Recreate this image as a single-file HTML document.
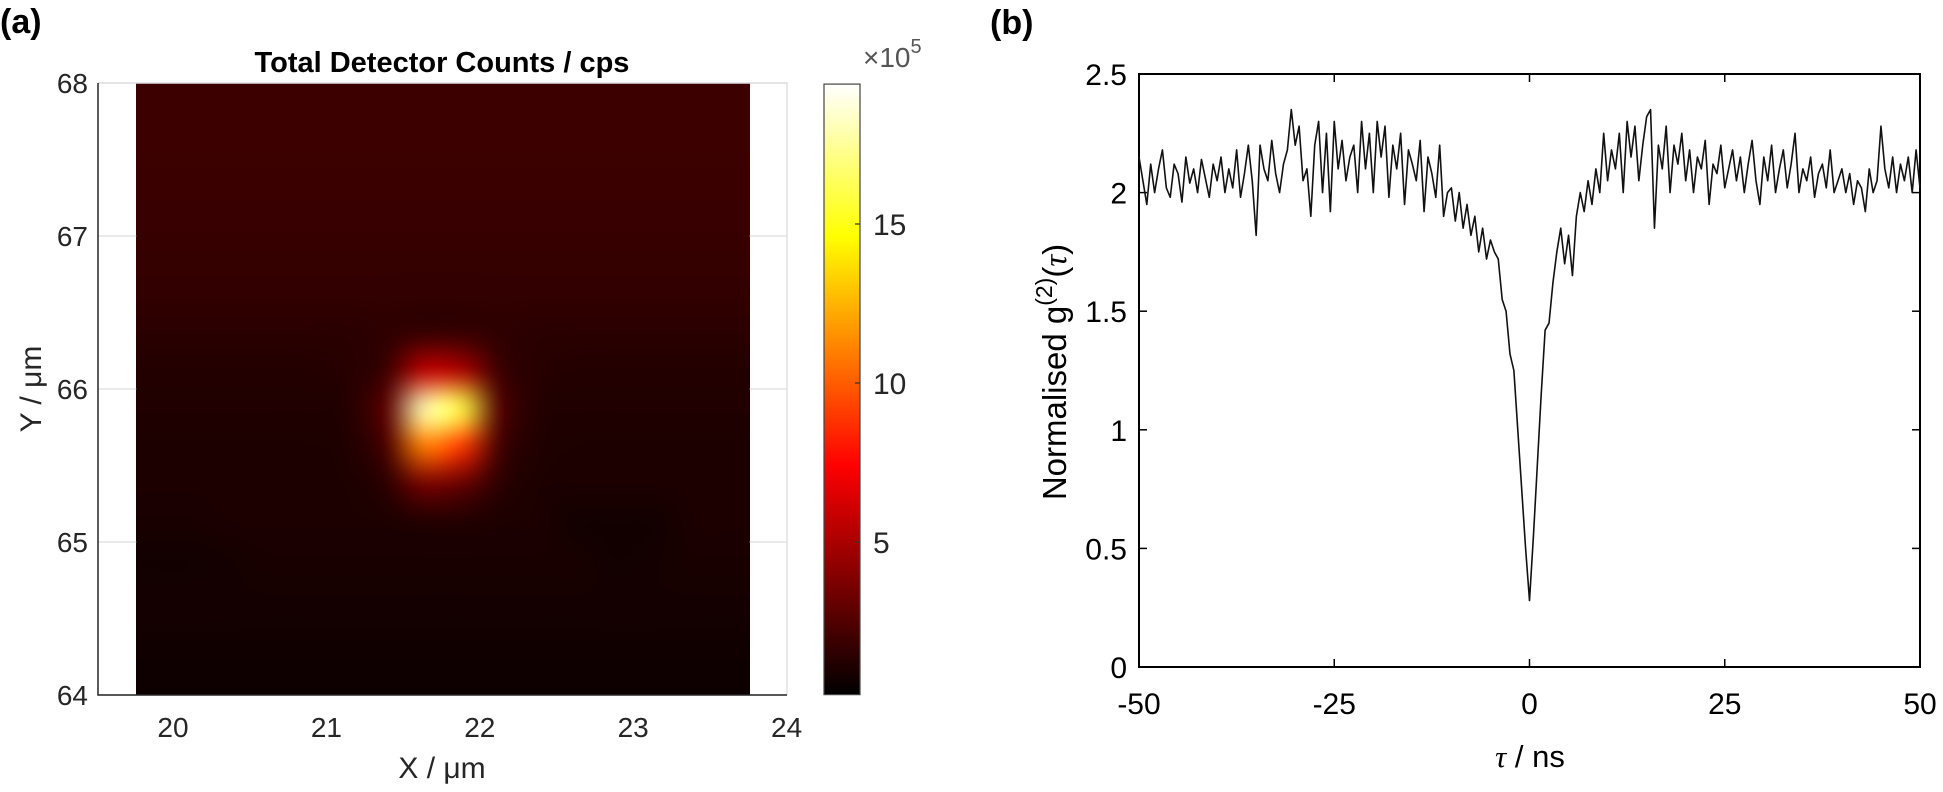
<!DOCTYPE html>
<html><head><meta charset="utf-8"><style>
body{margin:0;background:#fff;width:1943px;height:792px;overflow:hidden;font-family:"Liberation Sans",sans-serif}
svg{position:absolute;left:0;top:0}
canvas{position:absolute}
</style></head><body>
<canvas id="hm" style="left:137px;top:83px;width:611px;height:612px" width="611" height="612"></canvas>
<svg id="s" width="1943" height="792"></svg>
<script>
// ---- heatmap data (x1e5 cps), rows top (y=68) to bottom (y=64), 16x16 ----
const hmXRange=[19.76,23.76];
const hmYRange=[64,68];
const hmRows=[
[1.9,1.9,1.9,1.9,1.9,1.9,1.9,1.9,1.9,1.9,1.9,1.9,1.9,1.9,1.9,1.9],
[1.9,1.9,1.9,1.9,1.9,1.9,1.9,1.9,1.9,1.9,1.9,1.9,1.9,1.9,1.9,1.9],
[1.85,1.85,1.85,1.85,1.85,1.85,1.85,1.85,1.85,1.85,1.85,1.85,1.85,1.85,1.85,1.85],
[1.8,1.8,1.8,1.8,1.8,1.8,1.8,1.8,1.8,1.8,1.8,1.8,1.8,1.8,1.8,1.8],
[1.7,1.7,1.7,1.7,1.7,1.7,1.7,1.7,1.7,1.7,1.7,1.7,1.7,1.7,1.7,1.7],
[1.6,1.6,1.6,1.6,1.6,1.6,1.6,1.6,1.6,1.6,1.6,1.6,1.6,1.6,1.6,1.6],
[1.4,1.4,1.4,1.4,1.4,1.4,1.5,1.6,1.6,1.5,1.4,1.4,1.4,1.4,1.4,1.4],
[1.2,1.2,1.2,1.2,1.2,1.3,1.8,5.5,5,1.8,1.3,1.2,1.2,1.2,1.2,1.2],
[1.1,1.1,1.1,1.1,1.1,1.2,2.8,18,16,2.5,1.2,1.1,1.1,1.1,1.1,1.1],
[1.0,1.0,1.0,1.0,1.0,1.1,2.2,11,9,2,1.1,1.0,1.0,1.0,1.0,1.0],
[1.0,1.0,1.0,1.0,1.0,1.0,1.4,3.5,3,1.4,1.0,1.0,1.0,1.0,1.0,1.0],
[0.9,0.9,1.0,1.0,1.0,1.0,1.0,1.1,1.1,1.0,1.0,0.7,0.7,0.7,1.0,1.0],
[0.7,0.7,0.8,0.9,0.9,0.9,0.9,0.9,0.9,0.9,0.9,0.9,0.7,0.8,0.9,0.9],
[0.8,0.8,0.8,0.8,0.8,0.8,0.8,0.8,0.8,0.8,0.8,0.8,0.8,0.8,0.8,0.8],
[0.7,0.7,0.7,0.7,0.7,0.7,0.7,0.7,0.7,0.7,0.7,0.7,0.7,0.7,0.7,0.7],
[0.6,0.6,0.6,0.6,0.6,0.6,0.6,0.6,0.6,0.6,0.6,0.6,0.6,0.6,0.6,0.6]];
const cbarRange=[0.2,19.4];
const cbarTicks=[5,10,15];
const leftXTicks=[20,21,22,23,24];
const leftYTicks=[64,65,66,67,68];
// ---- g2 data ----
const tauStart=-50, tauStep=0.5;
const g2Values=[
2.15,2.05,1.95,2.12,2.0,2.1,2.18,2.02,1.98,2.12,2.08,1.96,2.15,2.04,2.1,2.0,2.14,2.06,1.98,2.12,
2.05,2.15,2.0,2.1,2.02,2.18,1.98,2.08,2.2,2.05,1.82,2.2,2.1,2.05,2.22,2.08,2.0,2.12,2.18,2.35,
2.2,2.28,2.05,2.1,1.9,2.2,2.3,2.0,2.25,1.92,2.3,2.1,2.22,2.05,2.15,2.2,2.0,2.3,2.1,2.25,
2.0,2.3,2.15,2.28,1.98,2.2,2.1,2.25,1.95,2.18,2.12,2.05,2.22,1.92,2.15,2.08,1.98,2.2,1.9,2.0,
2.02,1.88,2.0,1.85,1.95,1.82,1.9,1.75,1.85,1.72,1.8,1.75,1.72,1.55,1.5,1.32,1.25,1.0,0.75,0.5,
0.28,0.55,0.85,1.15,1.42,1.45,1.62,1.75,1.85,1.7,1.82,1.65,1.9,2.0,1.92,2.05,1.95,2.1,2.0,2.25,
2.05,2.18,2.1,2.25,2.0,2.3,2.15,2.28,2.05,2.2,2.32,2.35,1.85,2.2,2.1,2.28,2.0,2.2,2.12,2.25,
2.05,2.18,2.0,2.15,2.1,2.22,1.95,2.12,2.08,2.2,2.02,2.1,2.18,2.05,2.15,2.0,2.12,2.22,2.05,1.95,
2.15,2.05,2.2,2.0,2.1,2.18,2.02,2.12,2.25,2.0,2.1,2.05,2.15,1.98,2.08,2.12,2.02,2.18,2.0,2.05,
2.1,2.0,2.08,1.95,2.05,2.02,1.92,2.1,2.0,2.05,2.28,2.1,2.02,2.15,2.0,2.12,2.05,2.15,2.0,2.18,
2.02];
const rightXTicks=[-50,-25,0,25,50];
const rightYTicks=[0,0.5,1,1.5,2,2.5];
const rightYLabels=["0","0.5","1","1.5","2","2.5"];

const NS="http://www.w3.org/2000/svg";
const svg=document.getElementById('s');
function mk(tag,attrs,parent){const e=document.createElementNS(NS,tag);for(const k in attrs)e.setAttribute(k,attrs[k]);(parent||svg).appendChild(e);return e;}
function txt(s,attrs){const e=mk('text',attrs);e.textContent=s;return e;}

// axis functions
const xL=v=>173+(v-20)*153.4;
const yL=v=>695-(v-64)*153;
const yC=v=>701-v*31.8;
const xR=t=>1139+(t+50)*7.81;
const yR=g=>667-g*237.2;

function hot(f){f=Math.max(0,Math.min(1,f));return [Math.min(1,f/0.375),Math.max(0,Math.min(1,(f-0.375)/0.375)),Math.max(0,Math.min(1,(f-0.75)/0.25))];}

// heatmap
(function(){
 const rows=hmRows.length, cols=hmRows[0].length;
 const small=document.createElement('canvas');small.width=cols;small.height=rows;
 const sc=small.getContext('2d');const id=sc.createImageData(cols,rows);
 for(let r=0;r<rows;r++)for(let c=0;c<cols;c++){
  const f=(hmRows[r][c]-cbarRange[0])/(cbarRange[1]-cbarRange[0]);const col=hot(f);const i=(r*cols+c)*4;
  id.data[i]=col[0]*255;id.data[i+1]=col[1]*255;id.data[i+2]=col[2]*255;id.data[i+3]=255;}
 sc.putImageData(id,0,0);
 const cv=document.getElementById('hm');
 const x0=xL(hmXRange[0]),x1=xL(hmXRange[1]),y0=yL(hmYRange[1]),y1=yL(hmYRange[0]);
 cv.style.left=x0+'px';cv.style.top=y0+'px';cv.style.width=(x1-x0)+'px';cv.style.height=(y1-y0)+'px';
 cv.width=Math.round(x1-x0);cv.height=Math.round(y1-y0);
 const ctx=cv.getContext('2d');ctx.imageSmoothingEnabled=true;ctx.imageSmoothingQuality='high';
 ctx.drawImage(small,0,0,cv.width,cv.height);
})();

// panel labels
let t;
t=txt('(a)',{x:0,y:33,'font-size':34,'font-weight':'bold',fill:'#000'});

t=txt('(b)',{x:990,y:34,'font-size':34,'font-weight':'bold',fill:'#000'});


// left axes
t=txt('Total Detector Counts / cps',{x:442,y:72,'font-size':29,'font-weight':'bold','text-anchor':'middle',fill:'#000'});

const imgL=xL(hmXRange[0]), imgR=xL(hmXRange[1]);
leftYTicks.forEach(v=>{
 const y=yL(v);
 const g=mk('path',{d:`M98 ${y} H${imgL} M${imgR} ${y} H787`,stroke:'#e3e3e3','stroke-width':1.5,fill:'none'});
 
 const l=txt(String(v),{x:88,y:y+10,'font-size':28,'text-anchor':'end',fill:'#262626'});
 
});
leftXTicks.forEach(v=>{
 const l=txt(String(v),{x:xL(v),y:737,'font-size':28,'text-anchor':'middle',fill:'#262626'});
 
});
let e=mk('path',{d:`M98 ${yL(68)} H787 V695`,fill:'none',stroke:'#e0e0e0','stroke-width':1.5});

e=mk('path',{d:`M98 ${yL(68)} V695 H787`,fill:'none',stroke:'#262626','stroke-width':1.5});

t=txt('X / \u03bcm',{x:442,y:778,'font-size':30,'text-anchor':'middle',fill:'#262626'});

t=txt('Y / \u03bcm',{x:0,y:0,'font-size':30,'text-anchor':'middle',fill:'#262626',transform:'translate(41,389) rotate(-90)'});


// colorbar
const defs=mk('defs',{});
const lg=mk('linearGradient',{id:'hotg',x1:0,y1:1,x2:0,y2:0},defs);
[0,0.375,0.75,1].forEach(f=>{const c=hot(f);mk('stop',{offset:f,'stop-color':`rgb(${c[0]*255},${c[1]*255},${c[2]*255})`},lg);});
const cy0=yC(cbarRange[1]),cy1=yC(cbarRange[0]);
e=mk('rect',{x:824,y:cy0,width:36,height:cy1-cy0,fill:'url(#hotg)',stroke:'#444','stroke-width':1.2});

cbarTicks.forEach(v=>{
 const y=yC(v);
 const k=mk('line',{x1:855,x2:860,y1:y,y2:y,stroke:'#333','stroke-width':1.2});
 
 const l=txt(String(v),{x:873,y:y+11,'font-size':30,fill:'#262626'});
 
});
t=txt('',{x:863,y:67,'font-size':28,fill:'#555'});

t.innerHTML='\u00d710<tspan dy="-14" font-size="20">5</tspan>';

// right axes
const RX0=xR(-50),RX1=xR(50),RY0=yR(2.5),RY1=yR(0);
e=mk('rect',{x:RX0,y:RY0,width:RX1-RX0,height:RY1-RY0,fill:'none',stroke:'#000','stroke-width':2});

rightXTicks.forEach(v=>{
 const x=xR(v);
 const a=mk('line',{x1:x,x2:x,y1:RY1,y2:RY1-8,stroke:'#000','stroke-width':1.5});
 
 const b=mk('line',{x1:x,x2:x,y1:RY0,y2:RY0+8,stroke:'#000','stroke-width':1.5});
 
 const l=txt(String(v),{x:x,y:714,'font-size':30,'text-anchor':'middle',fill:'#000'});
 
});
rightYTicks.forEach((v,i)=>{
 const y=yR(v);
 const a=mk('line',{x1:RX0,x2:RX0+8,y1:y,y2:y,stroke:'#000','stroke-width':1.5});
 
 const b=mk('line',{x1:RX1,x2:RX1-8,y1:y,y2:y,stroke:'#000','stroke-width':1.5});
 
 const l=txt(rightYLabels[i],{x:1127,y:y+11,'font-size':30,'text-anchor':'end',fill:'#000'});
 
});
const pts=g2Values.map((g,i)=>`${xR(tauStart+i*tauStep).toFixed(2)},${yR(g).toFixed(2)}`).join(' ');
e=mk('polyline',{points:pts,fill:'none',stroke:'#111','stroke-width':1.6,'stroke-linejoin':'round'});

t=txt('',{x:1530,y:767,'font-size':31,'text-anchor':'middle',fill:'#000'});

t.innerHTML='<tspan font-family="Liberation Serif" font-style="italic">\u03c4</tspan> / ns';
t=txt('',{x:0,y:0,'font-size':33,'text-anchor':'middle',fill:'#000',transform:'translate(1066,372) rotate(-90)'});

t.innerHTML='Normalised g<tspan dy="-14" font-size="23">(2)</tspan><tspan dy="14">(</tspan><tspan font-family="Liberation Serif" font-style="italic">\u03c4</tspan>)';
</script>
</body></html>
